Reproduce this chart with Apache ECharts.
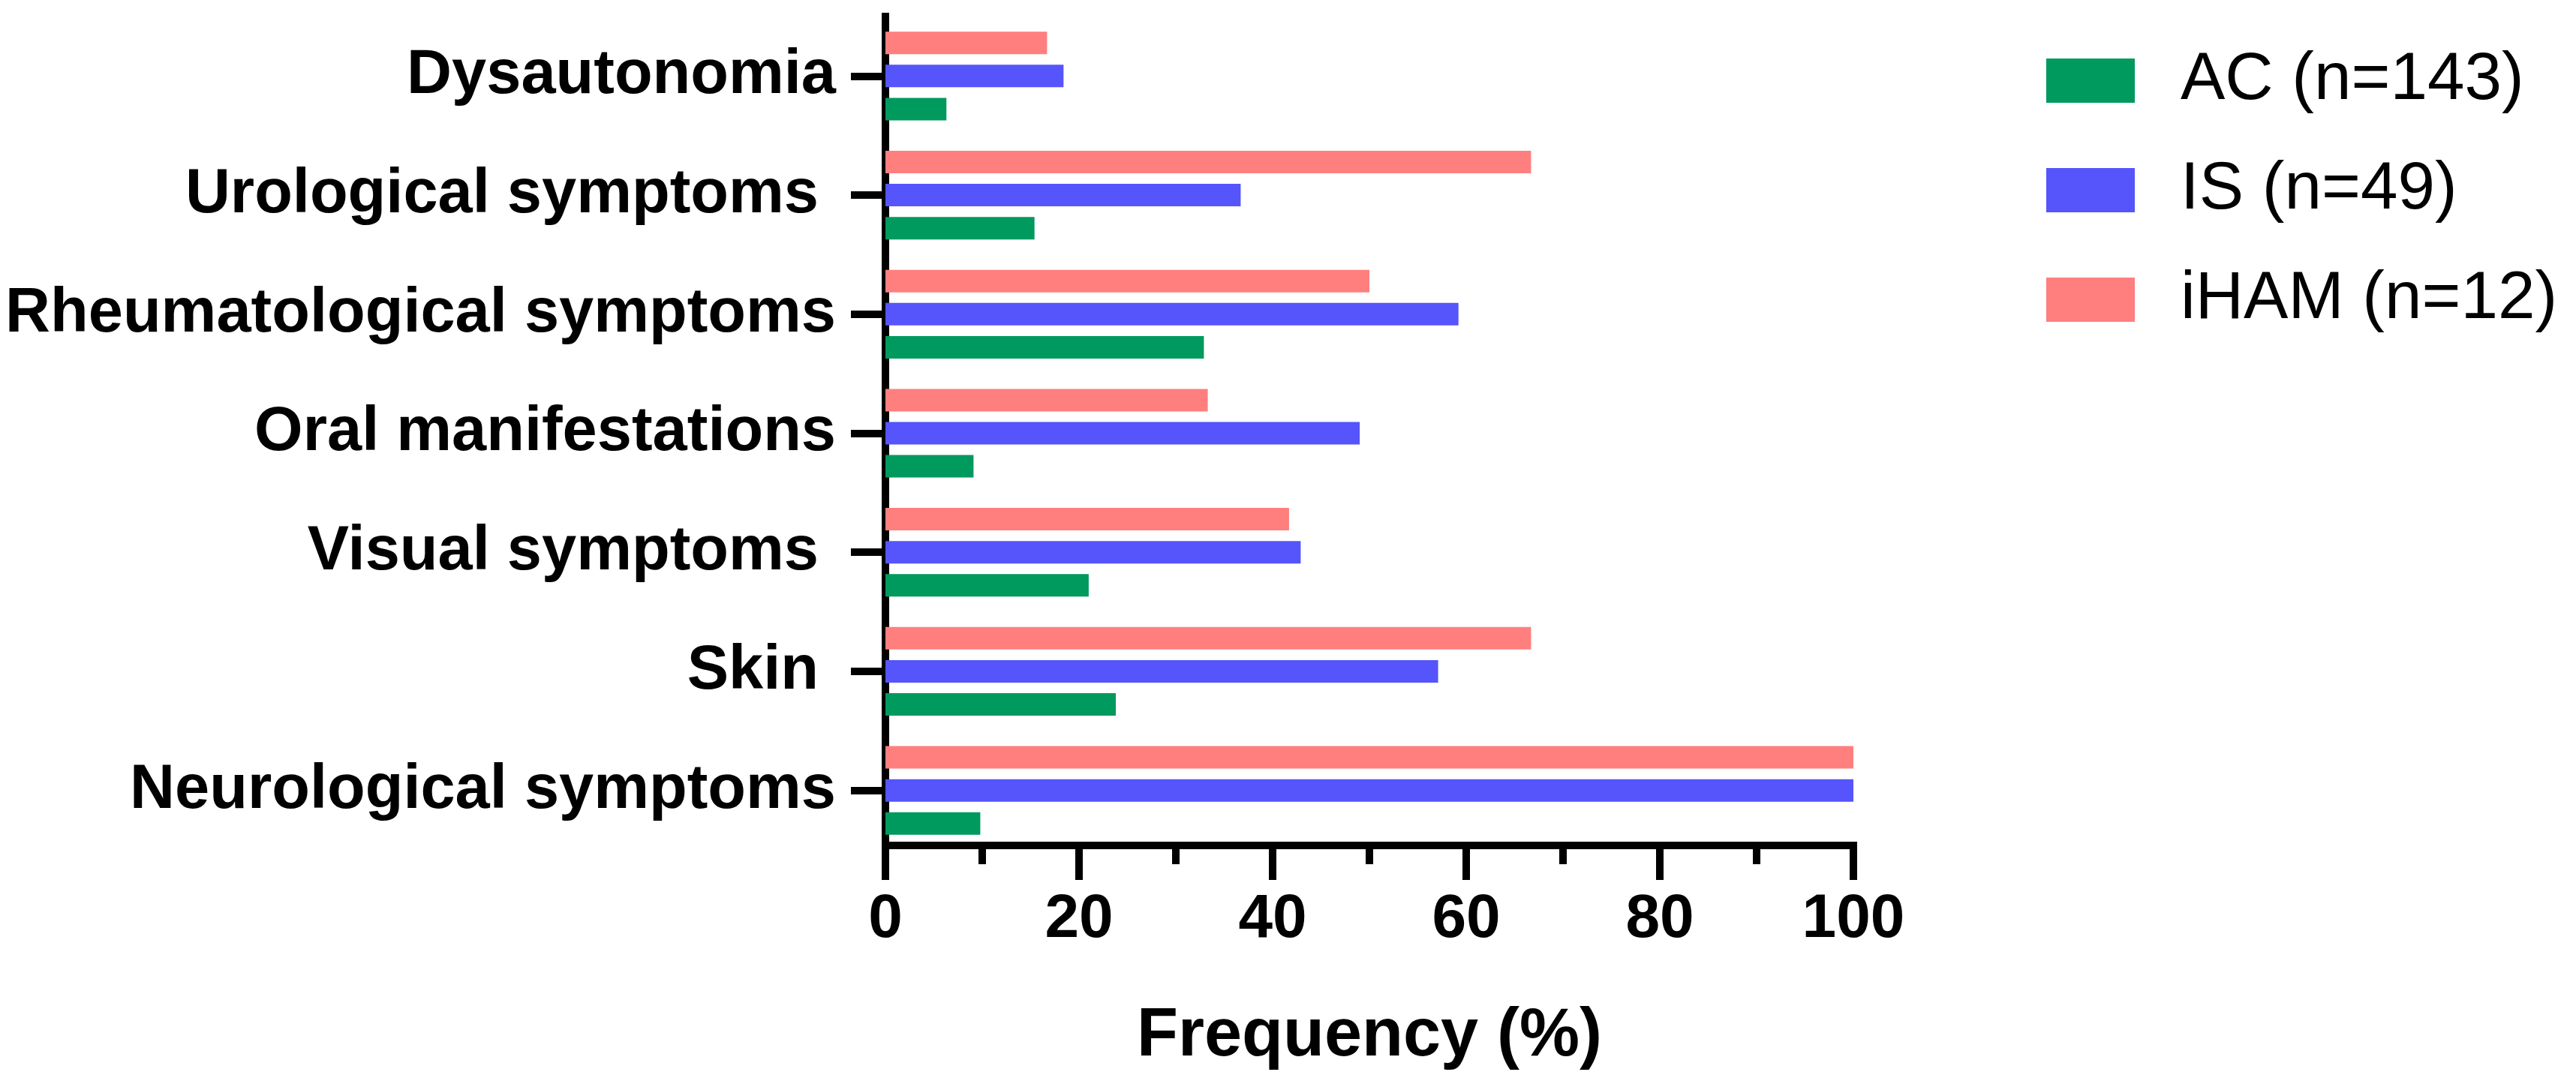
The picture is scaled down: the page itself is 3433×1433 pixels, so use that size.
<!DOCTYPE html>
<html>
<head>
<meta charset="utf-8">
<script src="https://cdn.jsdelivr.net/npm/echarts@6/dist/echarts.min.js"></script>
<style>
html,body{margin:0;padding:0;background:#fff;}
#chart{width:3433px;height:1433px;}
</style>
</head>
<body>
<div id="chart"></div>
<script>
// categories listed bottom to top
const categories = [
  'Neurological symptoms',
  'Skin ',
  'Visual symptoms ',
  'Oral manifestations',
  'Rheumatological symptoms',
  'Urological symptoms ',
  'Dysautonomia'
];
const seriesNames = ['AC (n=143)', 'IS (n=49)', 'iHAM (n=12)'];
const acValues   = [9.8, 23.8, 21.0, 9.1, 32.9, 15.4, 6.3];
const isValues   = [100, 57.1, 42.9, 49.0, 59.2, 36.7, 18.4];
const ihamValues = [100, 66.7, 41.7, 33.3, 50.0, 66.7, 16.7];
const xTicks = [0, 20, 40, 60, 80, 100];
const colors = ['#00995e', '#5555fb', '#ff7f7f'];

const FONT = "'Liberation Sans', Arial, sans-serif";
const chart = echarts.init(document.getElementById('chart'));
const seriesData = [acValues, isValues, ihamValues];

// draw order: iHAM (top of group), IS, AC (bottom of group)
const drawOrder = [2, 1, 0];

chart.setOption({
  backgroundColor: '#ffffff',
  animation: false,
  grid: { left: 1180, right: 963, top: 22, bottom: 300, containLabel: false },
  legend: {
    orient: 'vertical',
    left: 2722,
    top: 58,
    itemWidth: 118,
    itemHeight: 59,
    itemGap: 57,
    icon: 'rect',
    data: seriesNames,
    textStyle: { fontFamily: FONT, fontSize: 89, color: '#000', padding: [0, 0, 0, 56] }
  },
  xAxis: {
    type: 'value',
    min: xTicks[0],
    max: xTicks[xTicks.length - 1],
    interval: 20,
    offset: -6,
    name: 'Frequency (%)',
    nameLocation: 'middle',
    nameGap: 210,
    nameTextStyle: { fontFamily: FONT, fontSize: 90, fontWeight: 'bold', color: '#000' },
    axisLine: { show: true, lineStyle: { color: '#000', width: 10, cap: 'square' } },
    axisTick: { show: true, length: 46, lineStyle: { color: '#000', width: 10 } },
    minorTick: { show: true, splitNumber: 2, length: 25, lineStyle: { color: '#000', width: 10 } },
    splitLine: { show: false },
    axisLabel: { margin: 58, fontFamily: FONT, fontSize: 82, fontWeight: 'bold', color: '#000' }
  },
  yAxis: {
    type: 'category',
    data: categories,
    axisLine: { show: true, lineStyle: { color: '#000', width: 10, cap: 'square' } },
    axisTick: { show: true, alignWithLabel: true, length: 46, lineStyle: { color: '#000', width: 10 } },
    splitLine: { show: false },
    axisLabel: { margin: 66, fontFamily: FONT, fontSize: 83, fontWeight: 'bold', color: '#000' }
  },
  series: drawOrder.map(i => ({
    name: seriesNames[i],
    type: 'bar',
    data: seriesData[i],
    barWidth: 30,
    barGap: '47%',
    itemStyle: { color: colors[i] },
    z: 1
  }))
});
</script>
</body>
</html>
